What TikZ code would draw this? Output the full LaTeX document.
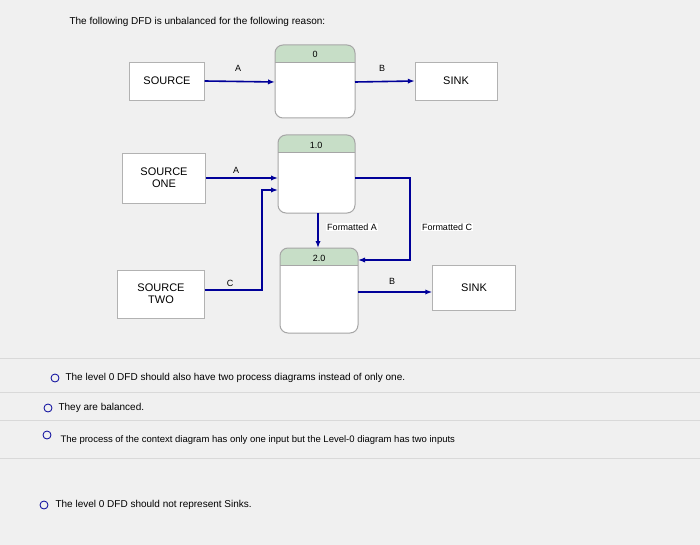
\documentclass[tikz,border=0pt]{standalone}
\usepackage{fontspec}
\setmainfont{Liberation Sans}
\usetikzlibrary{arrows.meta}
\begin{document}
\begin{tikzpicture}[x=1pt,y=-1pt,
  ext/.style={draw=gray!60,fill=white,minimum width=#1,minimum height=38pt,align=center,font=\fontsize{11}{12}\selectfont},
  lbl/.style={font=\fontsize{9}{10}\selectfont},
  flow/.style={draw=blue!60!black,line width=1.6pt,-{Latex[length=7pt]}},
  opt/.style={font=\fontsize{10}{12}\selectfont,anchor=west},
  radio/.style={circle,draw=blue!60!black,line width=0.8pt,minimum size=8pt,inner sep=0pt}]
\fill[gray!12] (0,0) rectangle (700,545);
\useasboundingbox (0,0) rectangle (700,545);
\newcommand{\proc}[5]{% name, x1,y1,x2,y2 ; label
  \begin{scope}
  \clip[rounded corners=8pt] (#2,#3) rectangle (#4,#5);
  \fill[white] (#2,#3) rectangle (#4,#5);
  \fill[green!25!gray!35] (#2,#3) rectangle (#4,#3+17);
  \end{scope}
  \draw[gray!70,line width=1pt,rounded corners=8pt] (#2,#3) rectangle (#4,#5);
  \draw[gray!70] (#2,#3+17) -- (#4,#3+17);
  \coordinate (#1) at ({(#2+#4)/2},{(#3+#5)/2});}
\node[opt,font=\fontsize{10}{12}\selectfont] (title) at (66,22) {The following DFD is unbalanced for the following reason:};
% context
\node[ext=75pt] (src) at (167,81) {SOURCE};
\proc{p0}{275}{45}{355}{118}
\node[lbl] (p0l) at (315,54) {0};
\node[ext=82pt] (sink) at (456,81) {SINK};
\coordinate (p0w) at (275,82); \coordinate (p0e) at (355,82);
\draw[flow] (src.east) -- (p0w);
\draw[flow] (p0e) -- (sink.west);
\node[lbl] (la) at (238,68) {A};
\node[lbl] (lb) at (382,68) {B};
% level 0
\node[ext=83pt,minimum height=50pt] (s1) at (164,178) {SOURCE\\ONE};
\proc{p1}{278}{135}{355}{213}
\node[lbl] (p1l) at (316,145) {1.0};
\node[ext=87pt,minimum height=48pt] (s2) at (161,294) {SOURCE\\TWO};
\proc{p2}{280}{248}{358}{333}
\node[lbl] (p2l) at (319,258) {2.0};
\node[ext=83pt,minimum height=45pt] (sink2) at (474,288) {SINK};
\coordinate (p1w) at (278,178); \coordinate (p1w2) at (278,190);
\coordinate (p1s) at (318,213); \coordinate (p2n) at (318,248);
\coordinate (p1e) at (355,178); \coordinate (p2e) at (358,260);
\coordinate (p2e2) at (358,292);
\draw[flow] (s1.east) -- (p1w);
\draw[flow] (s2.east |- 0,290) -- (262,290) -- (262,190) -- (p1w2);
\draw[flow] (p1s) -- (p2n);
\draw[flow] (p1e) -- (410,178) -- (410,260) -- (p2e);
\draw[flow] (p2e2) -- (sink2.west |- p2e2);
\node[lbl] (la2) at (236,170) {A};
\node[lbl] (lc) at (230,283) {C};
\node[lbl,fill=white,inner sep=1pt] (lfa) at (352,227) {Formatted A};
\node[lbl,fill=white,inner sep=1pt] (lfc) at (447,227) {Formatted C};
\node[lbl] (lb2) at (392,281) {B};
% options
\draw[gray!30] (0,358) -- (700,358);
\draw[gray!30] (0,392) -- (700,392);
\draw[gray!30] (0,420) -- (700,420);
\draw[gray!30] (0,458) -- (700,458);
\node[radio] (r1) at (55,378) {};
\node[opt] (o1) at (62,378) {The level 0 DFD should also have two process diagrams instead of only one.};
\node[radio] (r2) at (48,408) {};
\node[opt] (o2) at (55,408) {They are balanced.};
\node[radio] (r3) at (47,435) {};
\node[opt,font=\fontsize{9.5}{11}\selectfont] (o3) at (57,440) {The process of the context diagram has only one input but the Level-0 diagram has two inputs};
\node[radio] (r4) at (44,505) {};
\node[opt] (o4) at (52,505) {The level 0 DFD should not represent Sinks.};
\end{tikzpicture}
\end{document}
